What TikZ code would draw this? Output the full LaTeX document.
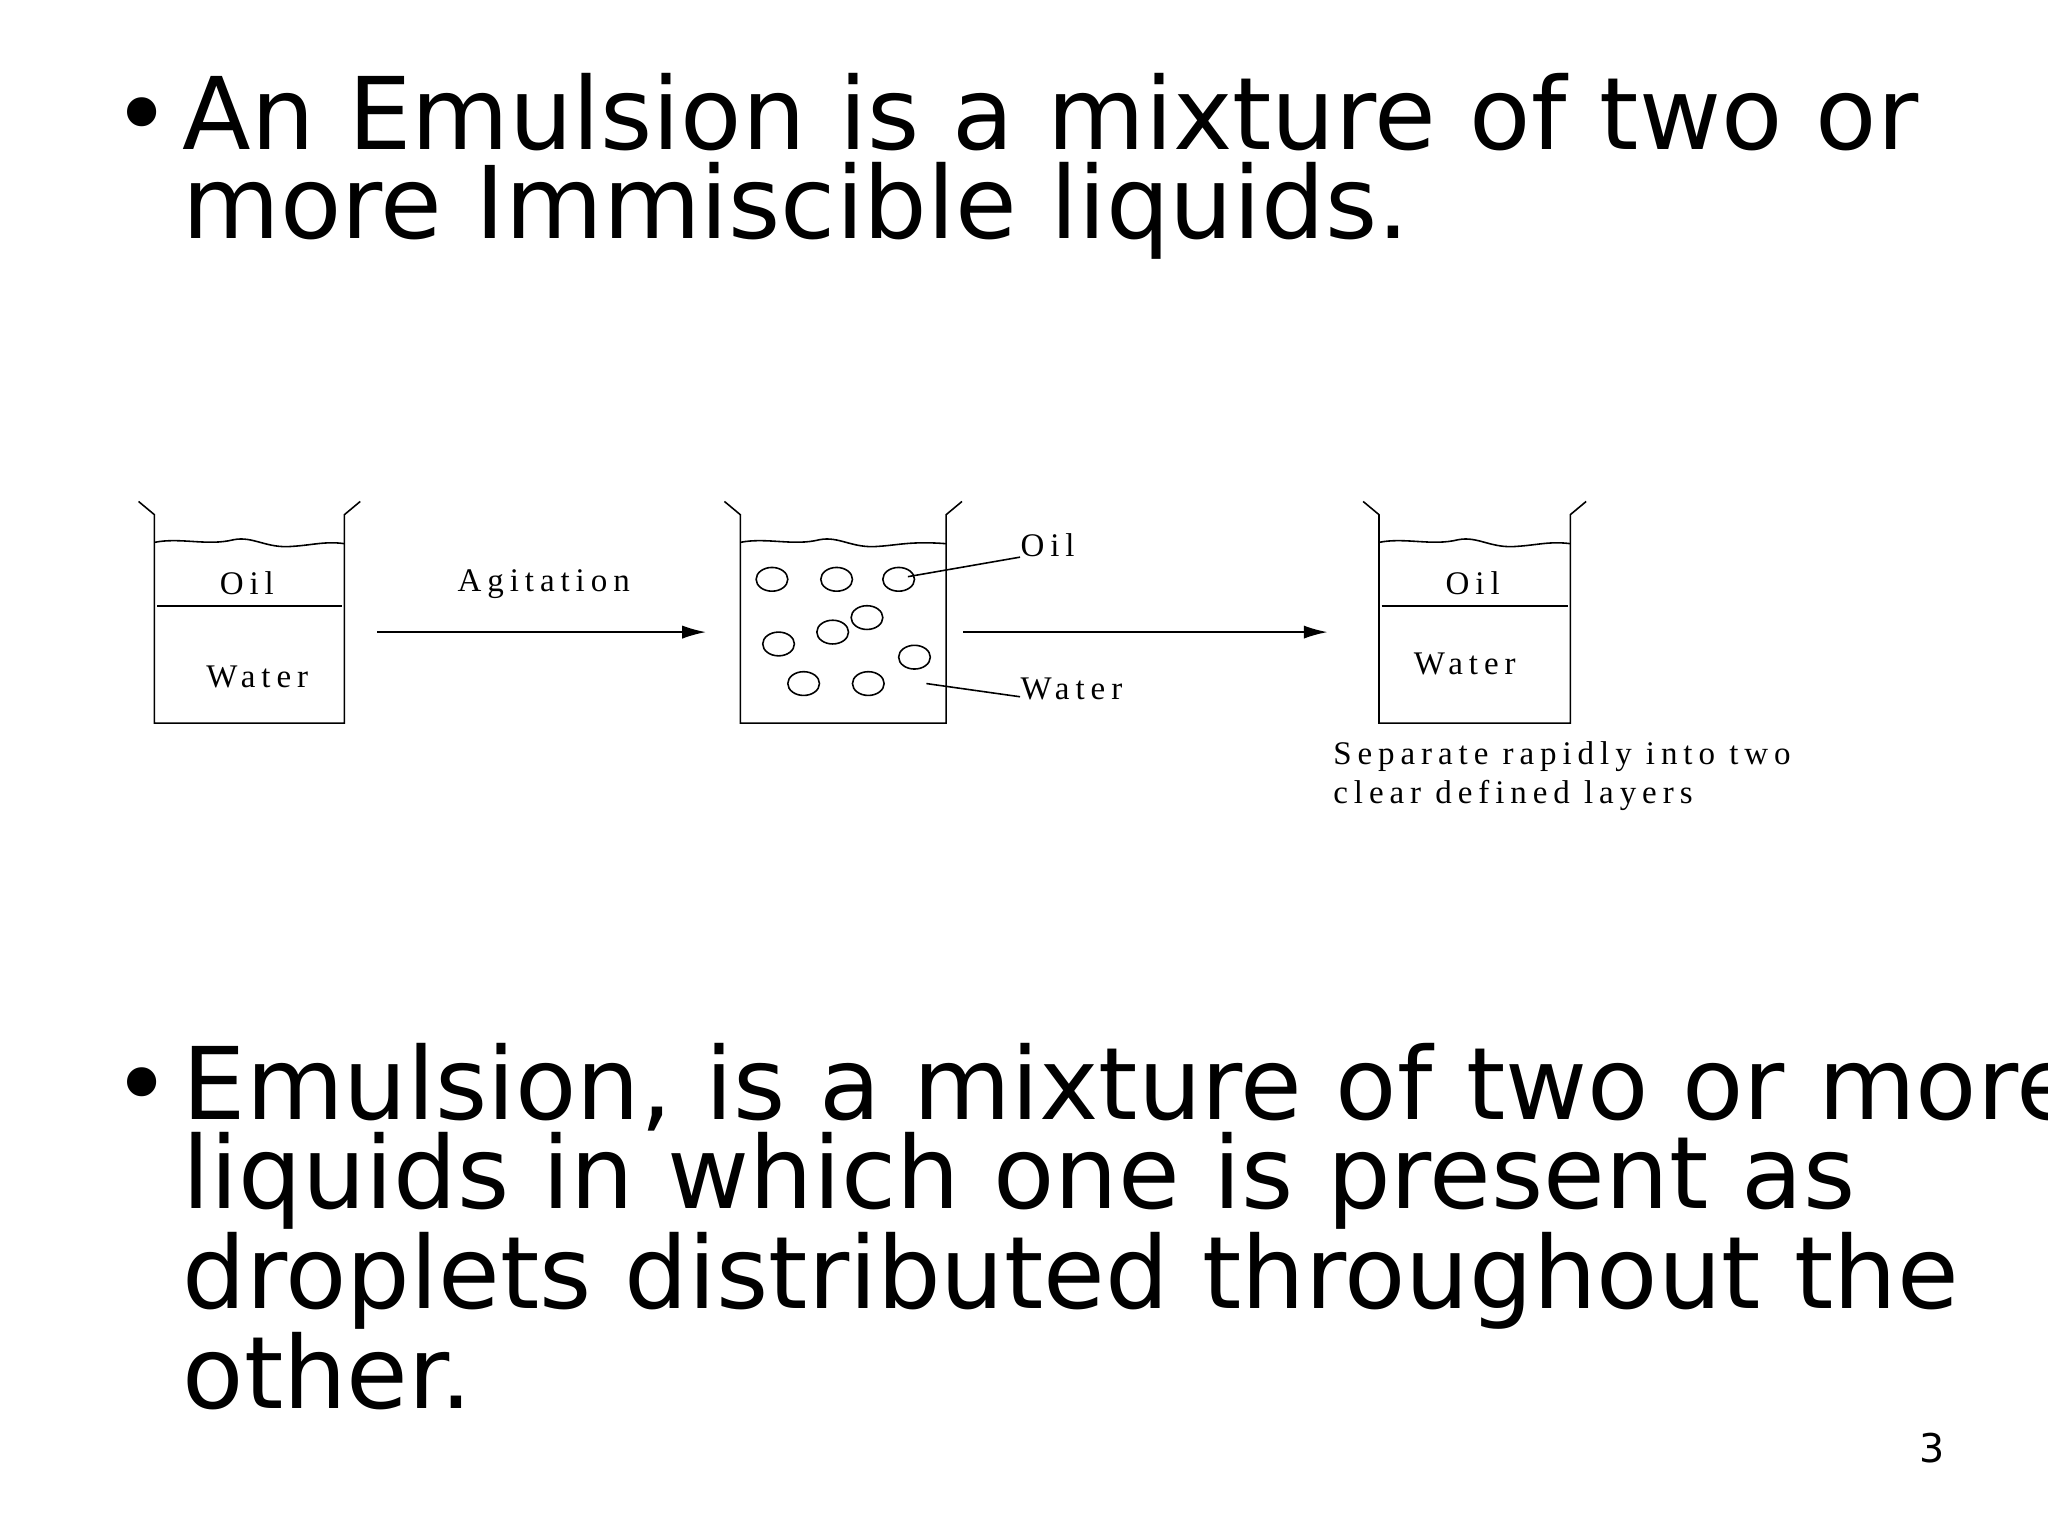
\documentclass[tikz,border=0pt]{standalone}
\usepackage{fontspec}
\setmainfont{DejaVu Sans}
\newfontfamily\dia[LetterSpace=18]{Liberation Serif}
\usetikzlibrary{arrows.meta,shapes.geometric}
\begin{document}
\begin{tikzpicture}[x=0.5pt,y=-0.5pt,
  big/.style={anchor=base west,inner sep=0,font=\fontsize{38}{34}\selectfont,align=left},
  lab/.style={inner sep=0,font=\dia\fontsize{12.5}{15}\selectfont},
  ln/.style={line width=0.6pt},
  arr/.style={line width=0.6pt,-{Latex[length=9pt,width=5pt]}}]
\useasboundingbox (0,0) rectangle (1552,1164);
% bullets
\node[big] (b1) at (85,113) {•};
\node[big,text width=1400pt] (t1) at (138,113) {An Emulsion is a mixture of two or\\more Immiscible liquids.};
\node[big] (b2) at (85,848) {•};
\node[big,text width=1400pt] (t2) at (138,848) {Emulsion, is a mixture of two or more\\liquids in which one is present as\\droplets distributed throughout the\\other.};
\node[anchor=base,inner sep=0,font=\fontsize{15}{15}\selectfont] (pg) at (1464,1108) {3};
% beakers
\foreach \l/\r in {117/261,561/717,1045/1190}{
  \draw[ln] (\l-12,380) -- (\l,390) -- (\l,548) -- (\r,548) -- (\r,390) -- (\r+12,380);
  \draw[ln] (\l,411) .. controls (\l+20,407) and (\l+40,414) .. (\l+60,409)
     .. controls (\l+75,406) and (\l+85,416) .. (\l+105,414)
     .. controls (\l+120,413) and (\l+130,410) .. (\r,412);
}
\draw[ln] (119,459) -- (259,459);
\draw[ln] (1047,459) -- (1188,459);
\node[lab] (o1) at (187,442) {Oil};
\node[lab] (w1) at (195,513) {Water};
\node[lab] (o3) at (1116,442) {Oil};
\node[lab] (w3) at (1110,503) {Water};
% arrows
\coordinate (a1s) at (286,479); \coordinate (a1e) at (535,479);
\draw[arr] (a1s) -- (a1e);
\node[lab] (ag) at (412,443) {Agitation};
\coordinate (a2s) at (730,479); \coordinate (a2e) at (1006,479);
\draw[arr] (a2s) -- (a2e);
% droplets
\foreach \x/\y [count=\i] in {585/439,634/439,681/439,657/468,631/479,590/488,693/498,609/518,658/518}
  \node[draw,ellipse,line width=0.6pt,minimum width=12pt,minimum height=9pt,inner sep=0] (d\i) at (\x,\y) {};
\node[lab,anchor=west] (o2) at (773,413) {Oil};
\node[lab,anchor=west] (w2) at (773,522) {Water};
\draw[ln] (688,437) -- (o2.south west);
\draw[ln] (702,518) -- ([yshift=-3pt]w2.west);
\node[lab,anchor=base west,align=left] (cap) at (1010,609) {Separate rapidly into two\\clear defined layers};
\end{tikzpicture}
\end{document}
